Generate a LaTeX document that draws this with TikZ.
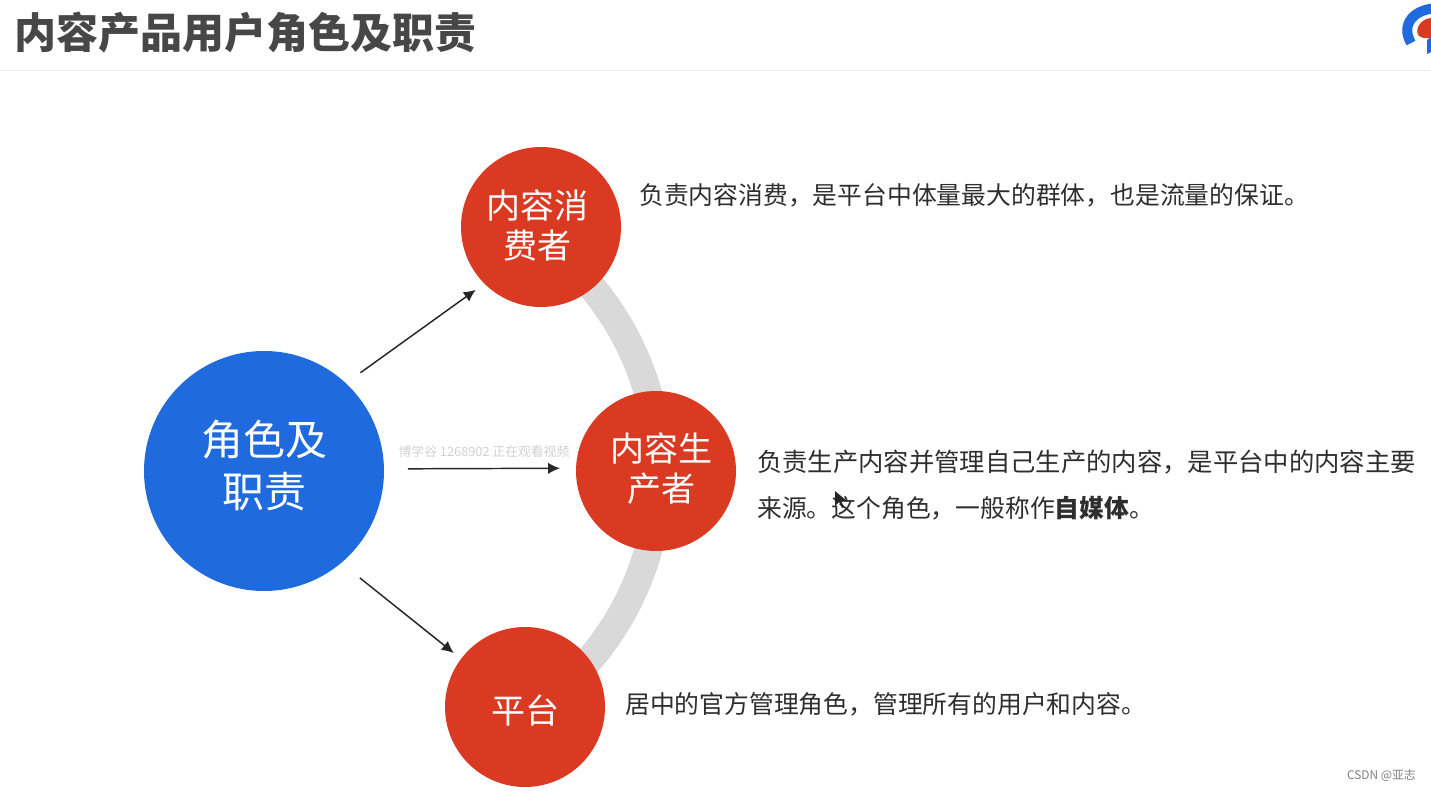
\documentclass[tikz,border=0pt]{standalone}
\usepackage{fontspec}
\setmainfont{Noto Sans CJK SC}
\usepackage{tikz}
\usetikzlibrary{positioning,arrows.meta,backgrounds}

\definecolor{rolered}{HTML}{D93A21}
\definecolor{roleblue}{HTML}{1F6BDD}
\definecolor{bandgray}{HTML}{D9D9D9}
\definecolor{bodytext}{HTML}{2E2E2E}

\tikzset{
  rolenode/.style={circle, fill=rolered, minimum size=120pt, inner sep=0pt, outer sep=0pt},
  centrenode/.style={rolenode, fill=roleblue, minimum size=180pt},
  rolename/.style={inner sep=0pt, text=white, align=center, font=\fontsize{25.5}{30}\selectfont},
  dutytext/.style={anchor=west, inner sep=0pt, text=bodytext, align=left, font=\fontsize{18.6}{34.5}\selectfont},
  rolearrow/.style={-{Latex[length=9pt,width=8.5pt]}, line width=1.1pt, draw=black!85},
  rimband/.style={draw=bandgray, line width=21pt, looseness=0.89},
  watermark/.style={inner sep=0pt, text=black!18, font=\fontsize{9.6}{12}\selectfont}
}

\begin{document}
\begin{tikzpicture}[x=0.75pt,y=-0.75pt]

  \useasboundingbox (0,0) rectangle (1431,791);

  \node[anchor=west, inner sep=0pt, text=black!72, font=\fontsize{31.5}{38}\selectfont\bfseries] (title) at (14,33) {内容产品用户角色及职责};
  \draw[black!8, line width=0.75pt] (0,71) -- (1431,71);

  % logo in the corner
  \begin{scope}
    \clip (1390,0) rectangle (1431,60);
    \draw[roleblue, line width=7.5pt] (1411,43) .. controls (1400,24) and (1414,8) .. (1440,8);
    \fill[rolered] (1431,18) .. controls (1420,19) and (1414,30) .. (1419,36) .. controls (1423,39) and (1428,38) .. (1431,38) -- cycle;
    \fill[roleblue] (1427,40) -- (1431,37) -- (1431,52) -- (1427,54) -- cycle;
  \end{scope}

  \node[centrenode] (role) at (264,471) {};
  \node[rolenode] (consumer) at (541,227) {};
  \node[rolenode] (producer) at (656,471) {};
  \node[rolenode] (platform) at (525,707) {};

  \node[rolename, font=\fontsize{31.5}{39}\selectfont] (rolelabel) at (264,466) {角色及\\职责};
  \node[rolename] (consumerlabel) at (537,225) {内容消\\费者};
  \node[rolename] (producerlabel) at (661,469) {内容生\\产者};
  \node[rolename] (platformlabel) at (525,710) {平台};

  \node[dutytext] (consumerduty) at (639,195) {负责内容消费，是平台中体量最大的群体，也是流量的保证。};
  \node[dutytext] (producerduty) at (757,485) {\fontsize{19}{34.5}\selectfont 负责生产内容并管理自己生产的内容，是平台中的内容主要\\来源。这个角色，一般称作\textbf{自媒体}。};
  \node[dutytext] (platformduty) at (625,704) {居中的官方管理角色，管理所有的用户和内容。};

  \node[watermark] (viewer) at (484,452) {博学谷 1268902 正在观看视频};
  \node[watermark, text=black!50, anchor=east, font=\fontsize{8.9}{10}\selectfont] (credit) at (1416,776) {CSDN @亚志};

  \coordinate (rimtop) at (556,251);
  \coordinate (rimmid) at (659,472);
  \coordinate (rimbottom) at (556,693);

  \begin{scope}[on background layer]
    \path[rimband] (rimtop) edge[bend left=25] (rimmid);
    \path[rimband] (rimmid) edge[bend left=25] (rimbottom);
  \end{scope}

  \draw[rolearrow, shorten <=13.5pt, shorten >=8pt] (role.47) -- (consumer.225);
  \draw[rolearrow, shorten <=18pt, shorten >=12pt] (role.1) -- (producer.178.6);
  \draw[rolearrow, shorten <=18pt, shorten >=7pt] (role.310) -- (platform.143.5);

  % mouse pointer over the text
  \fill[black!85] (835,491) -- (835,506) -- (839,502) -- (842,508) -- (844,507) -- (841,501) -- (847,501) -- cycle;

\end{tikzpicture}
\end{document}
